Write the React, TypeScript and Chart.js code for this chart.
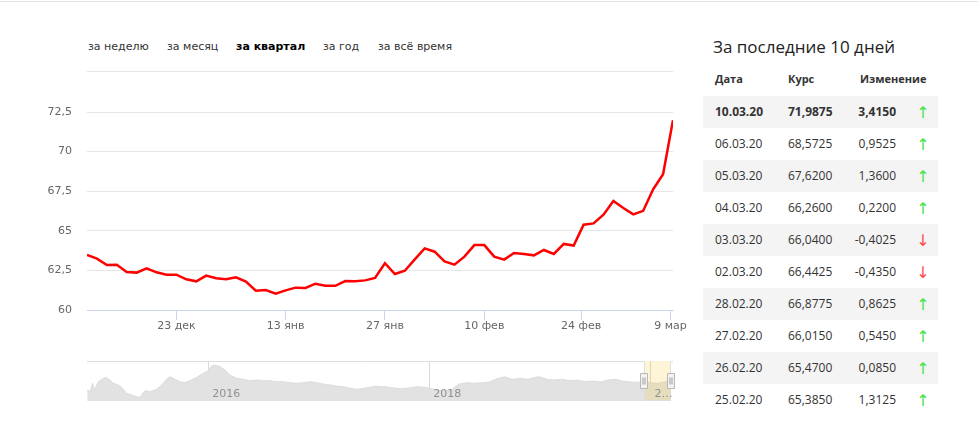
import React, { useEffect, useRef } from 'react';
import { Chart, registerables } from 'chart.js';

Chart.register(...registerables);

// ---- main chart data (one value per trading day, 10.12.19 … 10.03.20) ----
const rateValues = [
  63.47, 63.24, 62.84, 62.86, 62.4, 62.36, 62.63, 62.38, 62.23, 62.23,
  61.94, 61.81, 62.17, 62.0, 61.94, 62.06, 61.79, 61.22, 61.26, 61.03,
  61.24, 61.41, 61.39, 61.66, 61.53, 61.53, 61.83, 61.81, 61.87, 62.02,
  62.95, 62.27, 62.48, 63.2, 63.89, 63.68, 63.07, 62.86, 63.37, 64.1,
  64.1, 63.37, 63.18, 63.6, 63.54, 63.45, 63.79, 63.54, 64.17, 64.0725,
  65.385, 65.47, 66.015, 66.8775, 66.4425, 66.04, 66.26, 67.62, 68.5725, 71.9875,
];
const xTickPositions = [9, 20, 30, 40, 49.75, 58.75];
const xTickLabels = ['23 дек', '13 янв', '27 янв', '10 фев', '24 фев', '9 мар'];
const yMin = 60;
const yMax = 75.09;
const yTickValues = [60, 62.5, 65, 67.5, 70, 72.5, 75.09];
const yTickLabels = ['60', '62,5', '65', '67,5', '70', '72,5', ''];

// ---- navigator data ----
const navYears = [
  2014.905, 2014.93, 2014.954, 2014.966, 2014.984, 2015.005, 2015.035, 2015.074, 2015.11, 2015.14,
  2015.186, 2015.216, 2015.262, 2015.307, 2015.352, 2015.382, 2015.427, 2015.472, 2015.533, 2015.578,
  2015.624, 2015.653, 2015.699, 2015.744, 2015.789, 2015.834, 2015.895, 2015.955, 2016.0, 2016.031,
  2016.061, 2016.106, 2016.151, 2016.196, 2016.257, 2016.317, 2016.377, 2016.438, 2016.498, 2016.558,
  2016.619, 2016.679, 2016.739, 2016.8, 2016.86, 2016.92, 2016.981, 2017.041, 2017.101, 2017.162,
  2017.222, 2017.282, 2017.343, 2017.403, 2017.463, 2017.509, 2017.554, 2017.609, 2017.678, 2017.748,
  2017.816, 2017.886, 2017.955, 2018.007, 2018.059, 2018.128, 2018.197, 2018.267, 2018.336, 2018.405,
  2018.474, 2018.544, 2018.612, 2018.682, 2018.752, 2018.82, 2018.89, 2018.959, 2018.993, 2019.063,
  2019.132, 2019.201, 2019.271, 2019.34, 2019.409, 2019.478, 2019.548, 2019.617, 2019.686, 2019.755,
  2019.825, 2019.893, 2019.946, 2019.997, 2020.067, 2020.136, 2020.188,
];
const navValues = [
  57.5, 55.7, 64.5, 57.5, 60.9, 66.1, 68.6, 70.7, 67.9, 64.5,
  62.7, 60.3, 54.0, 52.3, 50.5, 49.9, 56.8, 55.7, 58.2, 62.7,
  68.6, 71.3, 68.6, 66.1, 65.1, 67.2, 70.7, 74.9, 77.6, 82.5,
  83.5, 81.8, 78.3, 73.1, 69.7, 68.6, 67.2, 67.9, 67.2, 67.2,
  66.1, 66.1, 65.1, 64.5, 65.1, 66.1, 65.1, 63.7, 62.7, 61.6,
  60.9, 59.2, 58.2, 59.2, 60.3, 61.6, 60.9, 60.9, 59.6, 58.9,
  59.6, 60.9, 60.3, 59.2, 57.5, 56.8, 57.5, 63.7, 65.1, 64.5,
  65.1, 65.8, 69.3, 71.3, 68.6, 69.7, 68.6, 70.7, 71.3, 68.6,
  67.9, 68.6, 67.2, 67.9, 66.1, 66.8, 65.8, 67.9, 68.6, 66.5,
  65.8, 65.5, 65.5, 65.1, 64.5, 66.1, 68.6,
];
const navTickYears = [2016, 2018, 2020];
const navTickLabels = ['2016', '2018', '2020'];
const navZone = [2019.94, 2020.19];

// ---- page texts ----
const periodTabs = ['за неделю', 'за месяц', 'за квартал', 'за год', 'за всё время'];
const activeTab = 2;
const tableTitle = 'За последние 10 дней';
const tableHeaders = ['Дата', 'Курс', 'Изменение'];
const tableDates = ['10.03.20', '06.03.20', '05.03.20', '04.03.20', '03.03.20', '02.03.20', '28.02.20', '27.02.20', '26.02.20', '25.02.20'];
const tableRates = ['71,9875', '68,5725', '67,6200', '66,2600', '66,0400', '66,4425', '66,8775', '66,0150', '65,4700', '65,3850'];
const tableChanges = ['3,4150', '0,9525', '1,3600', '0,2200', '-0,4025', '-0,4350', '0,8625', '0,5450', '0,0850', '1,3125'];

const FONT = 'DejaVu Sans';

function MainChart() {
  const ref = useRef<HTMLCanvasElement>(null);
  useEffect(() => {
    const chart = new Chart(ref.current as HTMLCanvasElement, {
      type: 'line',
      data: {
        datasets: [
          {
            data: rateValues.map((v, i) => ({ x: i, y: v })),
            borderColor: '#ff0000',
            borderWidth: 2.5,
            pointRadius: 0,
            tension: 0,
            fill: false,
          },
        ],
      },
      options: {
        responsive: false,
        animation: false,
        devicePixelRatio: 1,
        events: [],
        layout: { padding: { left: 0, right: 17, top: 71, bottom: 0 } },
        plugins: { legend: { display: false }, tooltip: { enabled: false } },
        scales: {
          x: {
            type: 'linear',
            min: 0,
            max: rateValues.length - 1,
            afterBuildTicks: (s: any) => {
              s.ticks = xTickPositions.map((v) => ({ value: v }));
            },
            afterFit: (s: any) => {
              s.height = 30;
              s.paddingLeft = 0;
              s.paddingRight = 0;
            },
            ticks: {
              autoSkip: false,
              maxRotation: 0,
              padding: 0,
              color: '#666666',
              font: { family: FONT, size: 11 },
              callback: (_v: any, i: number) => xTickLabels[i],
            },
            grid: {
              drawOnChartArea: false,
              drawTicks: true,
              tickLength: 10,
              tickColor: '#ccd6eb',
              color: '#ccd6eb',
            },
            border: { display: true, color: '#ccd6eb' },
          },
          y: {
            type: 'linear',
            min: yMin,
            max: yMax,
            afterBuildTicks: (s: any) => {
              s.ticks = yTickValues.map((v) => ({ value: v }));
            },
            afterFit: (s: any) => {
              s.width = 87;
            },
            ticks: {
              padding: 15,
              color: '#666666',
              font: { family: FONT, size: 11 },
              callback: (_v: any, i: number) => yTickLabels[i],
            },
            grid: { color: '#e6e6e6', drawTicks: false },
            border: { display: false },
          },
        },
      },
    });
    return () => chart.destroy();
  }, []);
  return <canvas ref={ref} width={690} height={340} style={{ position: 'absolute', left: 0, top: 0 }} />;
}

const navPlugin = {
  id: 'navExtras',
  afterDatasetsDraw(chart: any) {
    const { ctx, chartArea: a, scales } = chart;
    const xs = scales.x;
    const x1 = Math.round(xs.getPixelForValue(navZone[0]));
    const x2 = Math.round(xs.getPixelForValue(navZone[1]));
    ctx.save();
    ctx.fillStyle = 'rgba(245,195,10,0.17)';
    ctx.fillRect(x1, a.top, x2 - x1, a.bottom - a.top);

    ctx.strokeStyle = '#dedede';
    ctx.lineWidth = 1;
    ctx.beginPath();
    ctx.moveTo(a.left, a.top + 0.5);
    ctx.lineTo(x1 + 0.5, a.top + 0.5);
    ctx.lineTo(x1 + 0.5, a.bottom - 0.5);
    ctx.lineTo(x2 - 0.5, a.bottom - 0.5);
    ctx.lineTo(x2 - 0.5, a.top + 0.5);
    ctx.lineTo(a.right, a.top + 0.5);
    ctx.stroke();

    ctx.font = `11px "${FONT}"`;
    ctx.fillStyle = '#909090';
    ctx.textAlign = 'left';
    ctx.textBaseline = 'alphabetic';
    navTickYears.forEach((yr, i) => {
      const x = xs.getPixelForValue(yr) + 4;
      let text = navTickLabels[i];
      const avail = a.right - x;
      if (ctx.measureText(text).width > avail) {
        while (text.length > 1 && ctx.measureText(text + '…').width > avail) text = text.slice(0, -1);
        text = text + '…';
      }
      ctx.fillText(text, x, a.bottom - 4);
    });

    const cy = (a.top + a.bottom) / 2;
    [x1, x2].forEach((x) => {
      const hx = Math.round(x - 4) + 0.5;
      const hy = Math.round(cy - 8) + 0.5;
      ctx.fillStyle = '#f2f2f2';
      ctx.strokeStyle = '#b8b8b8';
      ctx.beginPath();
      ctx.rect(hx, hy, 7, 15);
      ctx.fill();
      ctx.stroke();
      ctx.strokeStyle = '#a0a0a0';
      ctx.beginPath();
      ctx.moveTo(hx + 2.5, hy + 4);
      ctx.lineTo(hx + 2.5, hy + 11);
      ctx.moveTo(hx + 4.5, hy + 4);
      ctx.lineTo(hx + 4.5, hy + 11);
      ctx.stroke();
    });
    ctx.restore();
  },
};

function Navigator() {
  const ref = useRef<HTMLCanvasElement>(null);
  useEffect(() => {
    const chart = new Chart(ref.current as HTMLCanvasElement, {
      type: 'line',
      data: {
        datasets: [
          {
            data: navYears.map((t, i) => ({ x: t, y: navValues[i] })),
            borderColor: '#dcdcdc',
            backgroundColor: '#e2e2e2',
            borderWidth: 1,
            pointRadius: 0,
            tension: 0,
            fill: 'start',
          },
        ],
      },
      options: {
        responsive: false,
        animation: false,
        devicePixelRatio: 1,
        events: [],
        layout: { padding: { left: 87, right: 17, top: 21, bottom: 19 } },
        plugins: { legend: { display: false }, tooltip: { enabled: false } },
        scales: {
          x: {
            type: 'linear',
            min: 2014.903,
            max: 2020.204,
            afterBuildTicks: (s: any) => {
              s.ticks = navTickYears.map((v) => ({ value: v }));
            },
            afterFit: (s: any) => {
              s.height = 0;
              s.paddingLeft = 0;
              s.paddingRight = 0;
            },
            ticks: { display: false },
            grid: { color: '#d9d9d9', drawTicks: false },
            border: { display: false },
          },
          y: { type: 'linear', min: 46, max: 87.7, display: false },
        },
      },
      plugins: [navPlugin],
    });
    return () => chart.destroy();
  }, []);
  return <canvas ref={ref} width={690} height={80} style={{ position: 'absolute', left: 0, top: 340 }} />;
}

function Tabs() {
  const lefts = [88, 167, 236, 323, 378];
  return (
    <>
      {periodTabs.map((t, i) => (
        <div
          key={t}
          style={{
            position: 'absolute',
            left: lefts[i],
            top: 40,
            font: `${i === activeTab ? 'bold ' : ''}11px "${FONT}"`,
            lineHeight: '13px',
            color: i === activeTab ? '#000' : '#333',
            whiteSpace: 'nowrap',
          }}
        >
          {t}
        </div>
      ))}
    </>
  );
}

function RatesTable() {
  const TF = '"Open Sans", "Noto Sans", sans-serif';
  return (
    <>
      <div
        style={{
          position: 'absolute',
          left: 713,
          top: 37,
          font: `17px ${TF}`,
          lineHeight: '20px',
          color: '#222',
          whiteSpace: 'nowrap',
        }}
      >
        {tableTitle}
      </div>
      <div style={{ position: 'absolute', left: 703, top: 63, width: 235, height: 32, font: `bold 11px ${TF}`, lineHeight: '32px', color: '#333' }}>
        <span style={{ position: 'absolute', left: 12 }}>{tableHeaders[0]}</span>
        <span style={{ position: 'absolute', left: 85 }}>{tableHeaders[1]}</span>
        <span style={{ position: 'absolute', left: 157 }}>{tableHeaders[2]}</span>
      </div>
      {tableDates.map((d, i) => {
        const neg = tableChanges[i].startsWith('-');
        return (
          <div
            key={d}
            style={{
              position: 'absolute',
              left: 703,
              top: 96 + 32 * i,
              width: 235,
              height: 32,
              background: i % 2 === 0 ? '#f4f4f4' : 'transparent',
              font: `${i === 0 ? 'bold ' : ''}12px ${TF}`,
              lineHeight: '32px',
              color: '#333',
              whiteSpace: 'nowrap',
            }}
          >
            <span style={{ position: 'absolute', left: 12 }}>{d}</span>
            <span style={{ position: 'absolute', left: 85 }}>{tableRates[i]}</span>
            <span style={{ position: 'absolute', right: 42, textAlign: 'right' }}>{tableChanges[i]}</span>
            <span
              style={{
                position: 'absolute',
                left: 210,
                top: 1,
                width: 20,
                textAlign: 'center',
                font: `16px "${FONT}"`,
                lineHeight: '32px',
                color: neg ? '#ff4d4d' : '#4ee04e',
              }}
            >
              {neg ? '↓' : '↑'}
            </span>
          </div>
        );
      })}
    </>
  );
}

export default function App() {
  return (
    <div style={{ position: 'fixed', left: 0, top: 0, width: 978, height: 438, background: '#fff', overflow: 'hidden' }}>
      <div style={{ position: 'absolute', left: 0, top: 1, width: 978, height: 1, background: '#e4e4e4' }} />
      <Tabs />
      <MainChart />
      <Navigator />
      <RatesTable />
    </div>
  );
}
